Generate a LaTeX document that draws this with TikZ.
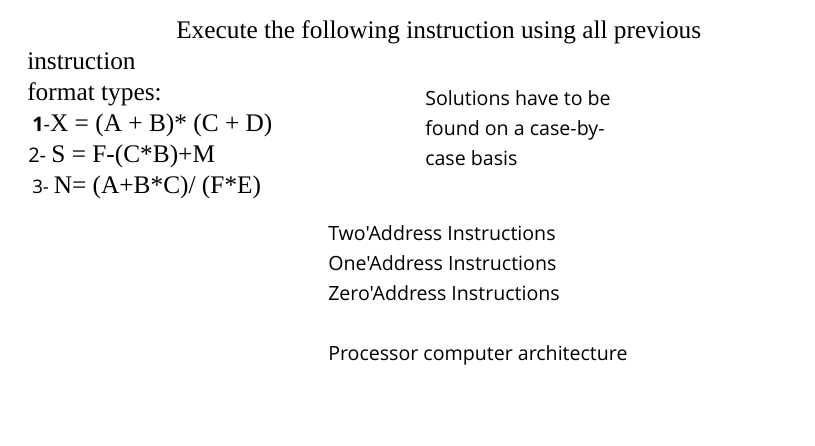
\documentclass[tikz,border=0pt]{standalone}
\usepackage{fontspec}
\setmainfont{Liberation Serif}
\newfontfamily\sansf{Open Sans}
\begin{document}
\begin{tikzpicture}[x=0.75pt,y=-0.75pt,
  serif/.style={anchor=base west,inner sep=0pt,font=\fontsize{19}{22}\selectfont},
  sans/.style={anchor=base west,inner sep=0pt,font=\sansf\fontsize{14.7}{17}\selectfont}]
\useasboundingbox[fill=white] (0,0) rectangle (815,446);
\node[serif] (t0) at (176,38) {Execute the following instruction using all previous};
\node[serif] (t1) at (27,69) {instruction};
\node[serif] (t2) at (27,100) {format types:};
\node[serif] (t3) at (32,131) {{\sansf\fontsize{15}{17}\selectfont\textbf{1}-}X = (A + B)* (C + D)};
\node[serif] (t4) at (28,162) {{\sansf\fontsize{15}{17}\selectfont 2- }S = F-(C*B)+M};
\node[serif] (t5) at (32,193) {{\sansf\fontsize{14}{17}\selectfont 3- }N= (A+B*C)/ (F*E)};
\node[sans] (s1) at (425,105) {Solutions have to be};
\node[sans] (s2) at (425,135) {found on a case-by-};
\node[sans] (s3) at (425,165) {case basis};
\node[sans] (a1) at (328,240) {Two'Address Instructions};
\node[sans] (a2) at (328,270) {One'Address Instructions};
\node[sans] (a3) at (328,300) {Zero'Address Instructions};
\node[sans] (a4) at (328,360) {Processor computer architecture};
\end{tikzpicture}
\end{document}
